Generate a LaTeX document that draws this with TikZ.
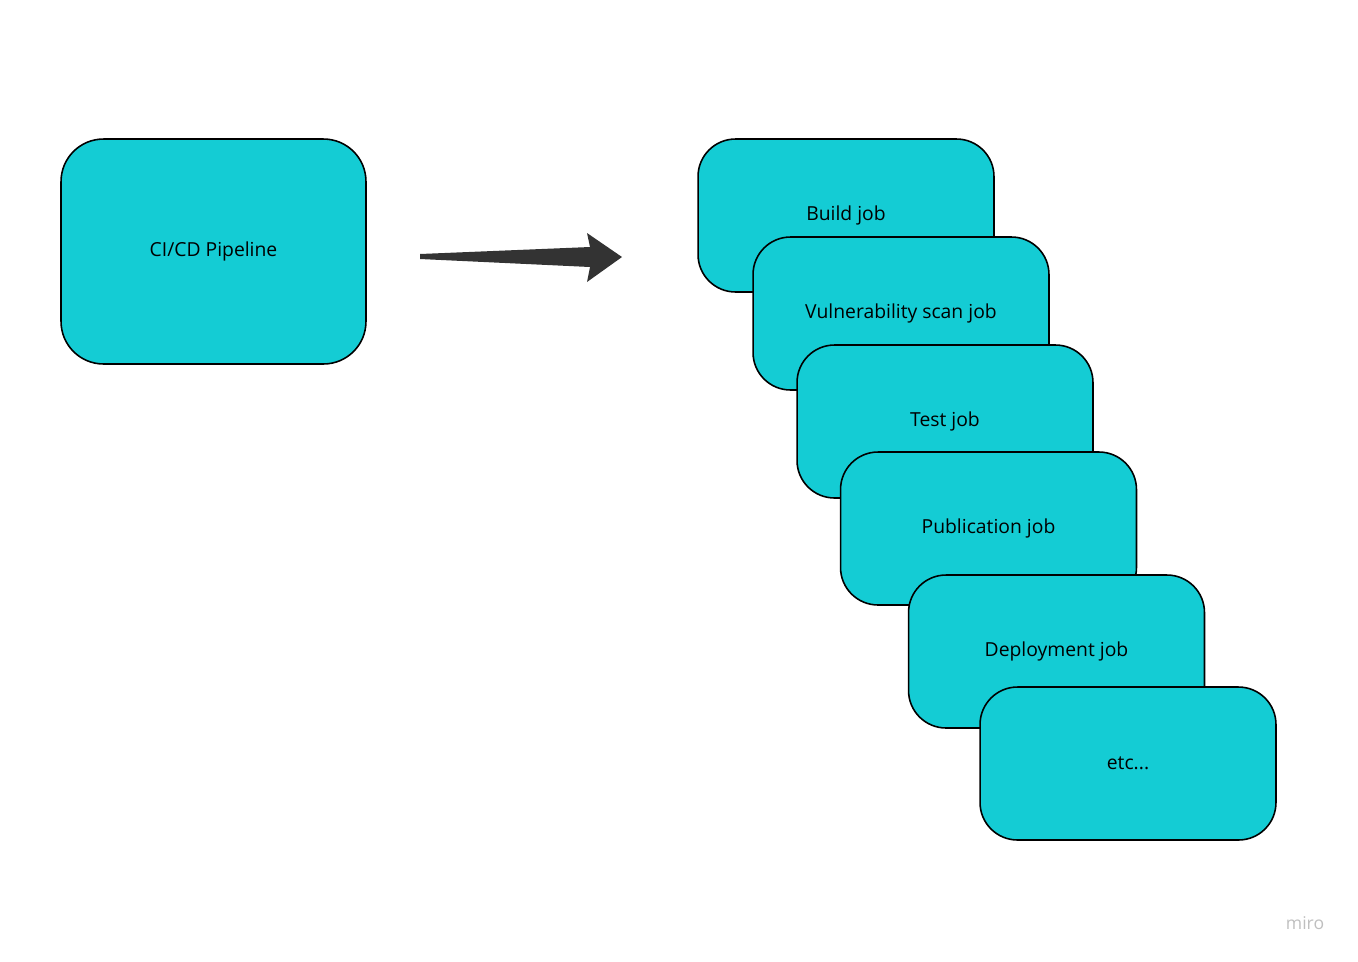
\documentclass[tikz,border=0pt]{standalone}
\usepackage{fontspec}
\setmainfont{Open Sans}
\definecolor{jobcyan}{HTML}{14CCD4}
\definecolor{arrowgray}{HTML}{333333}
\begin{document}
\begin{tikzpicture}[x=0.02cm,y=-0.02cm]
        \tikzstyle{every node}=[rectangle, rounded corners=0.75cm, fill=jobcyan, draw=black, line width=0.9pt, font=\fontsize{11}{13}\selectfont, text=black]
        \tikzstyle{job}=[minimum width=5.92cm, minimum height=3.06cm]
        \useasboundingbox (0,0) rectangle (1358,961);

        \node[minimum width=6.1cm, minimum height=4.5cm, rounded corners=0.85cm] (pipe) at (213.5,251.5) {CI/CD Pipeline};

        \node[job] (build)  at (846,215.5)    {Build job};
        \node[job] (vuln)   at (901,313.5)    {Vulnerability scan job};
        \node[job] (test)   at (945,421.5)    {Test job};
        \node[job] (pub)    at (988.5,528.5)  {Publication job};
        \node[job] (deploy) at (1056.5,651.5) {Deployment job};
        \node[job] (etc)    at (1128,763.5)   {etc...};

        \coordinate (tail) at (420,256);
        \coordinate (tip) at (622,257);
        \fill[arrowgray] (tail) -- ++(0,-2) -- (590,247) -- (587,233) -- (tip) -- (587,282) -- (590,267) -- ++(-170,-8) -- cycle;

        \node[draw=none, fill=none, text=gray!50, font=\fontsize{10}{12}\selectfont] (miro) at (1305,923) {miro};
    \end{tikzpicture}
\end{document}
